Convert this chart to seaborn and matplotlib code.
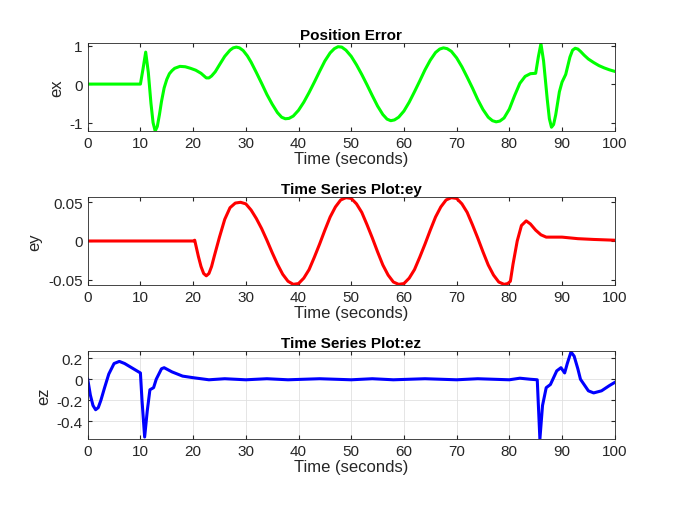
import numpy as np
import pandas as pd
import seaborn as sns
import matplotlib
matplotlib.use("Agg")
import matplotlib.pyplot as plt

ex_t = [0, 5, 10, 10.5, 11, 11.5, 12, 12.4, 12.8, 13.2, 13.6, 14, 14.5, 15, 15.5, 16, 16.5, 17.5, 18.5, 19.5, 20.5, 21.5, 22, 22.5, 23, 23.5, 24.2, 25, 26, 27, 27.6, 28.2, 28.8, 29.5, 30.3, 31, 32, 33, 34, 35, 36, 36.8, 37.5, 38.2, 39, 40, 41, 42, 43, 44, 45, 46, 46.8, 47.5, 48.2, 49, 50, 51, 52, 53, 54, 55, 56, 56.8, 57.5, 58.2, 59, 60, 61, 62, 63, 64, 65, 66, 66.8, 67.5, 68.2, 69, 70, 71, 72, 73, 74, 75, 76, 76.8, 77.5, 78.2, 79, 80, 81, 82, 83, 84, 85, 85.5, 86, 86.5, 87.2, 87.6, 88, 88.4, 88.8, 89.5, 90, 90.7, 91.5, 92, 92.5, 93, 93.5, 94.2, 95, 96, 97, 98, 99, 100]
ex_v = [0, 0, 0, 0.4, 0.83, 0.3, -0.5, -1.0, -1.22, -1.1, -0.8, -0.45, -0.1, 0.12, 0.27, 0.35, 0.41, 0.46, 0.45, 0.41, 0.36, 0.28, 0.22, 0.16, 0.16, 0.21, 0.32, 0.5, 0.72, 0.88, 0.94, 0.96, 0.94, 0.87, 0.73, 0.57, 0.3, 0.02, -0.27, -0.52, -0.74, -0.86, -0.9, -0.89, -0.83, -0.68, -0.47, -0.22, 0.05, 0.33, 0.6, 0.81, 0.92, 0.97, 0.96, 0.88, 0.72, 0.5, 0.25, -0.02, -0.3, -0.57, -0.79, -0.91, -0.95, -0.93, -0.86, -0.7, -0.47, -0.2, 0.08, 0.37, 0.62, 0.82, 0.91, 0.94, 0.92, 0.85, 0.68, 0.45, 0.18, -0.1, -0.4, -0.66, -0.86, -0.95, -0.98, -0.96, -0.88, -0.65, -0.3, 0.02, 0.2, 0.27, 0.28, 0.7, 1.05, 0.6, -0.4, -0.9, -1.12, -1.05, -0.8, -0.2, 0.05, 0.25, 0.7, 0.88, 0.93, 0.91, 0.85, 0.75, 0.65, 0.56, 0.48, 0.42, 0.37, 0.33]

ey_t = [0, 10, 20, 20.3, 21, 21.5, 22, 22.5, 23, 23.5, 24, 25, 26, 27, 28, 29, 30, 31, 32, 33, 34, 35, 36, 37, 38, 39, 40, 41, 42, 43, 44, 45, 46, 47, 48, 49, 50, 51, 52, 53, 54, 55, 56, 57, 58, 59, 60, 61, 62, 63, 64, 65, 66, 67, 68, 69, 70, 71, 72, 73, 74, 75, 76, 77, 78, 79, 79.7, 80.2, 80.7, 81.5, 82.3, 83.2, 84, 85, 86, 87, 90, 93, 96, 100]
ey_v = [0, 0, 0, 0.001, -0.02, -0.033, -0.042, -0.045, -0.042, -0.033, -0.02, 0.005, 0.028, 0.043, 0.049, 0.05, 0.048, 0.04, 0.029, 0.016, 0.001, -0.015, -0.03, -0.043, -0.052, -0.056, -0.055, -0.048, -0.037, -0.021, -0.004, 0.014, 0.031, 0.044, 0.053, 0.056, 0.055, 0.048, 0.037, 0.021, 0.004, -0.014, -0.031, -0.044, -0.053, -0.056, -0.055, -0.048, -0.037, -0.021, -0.004, 0.014, 0.031, 0.044, 0.053, 0.056, 0.055, 0.048, 0.037, 0.021, 0.004, -0.014, -0.031, -0.044, -0.053, -0.056, -0.055, -0.052, -0.03, 0, 0.02, 0.026, 0.022, 0.014, 0.008, 0.005, 0.005, 0.003, 0.002, 0.001]

ez_t = [0, 0.5, 1, 1.5, 2, 2.5, 3.2, 4, 5, 6, 7, 8, 9, 10, 10.3, 10.8, 11.3, 11.8, 12.5, 13, 14, 14.5, 16, 18, 20, 23, 26, 30, 34, 38, 44, 50, 54, 58, 64, 70, 74, 80, 82, 84, 85.3, 85.8, 86.3, 87, 87.8, 89, 89.8, 90.5, 91, 91.7, 92.3, 93, 93.5, 95, 96, 97.5, 99, 100]
ez_v = [0, -0.15, -0.25, -0.29, -0.27, -0.2, -0.08, 0.05, 0.15, 0.17, 0.15, 0.12, 0.09, 0.06, -0.2, -0.55, -0.3, -0.1, -0.08, 0, 0.1, 0.11, 0.07, 0.03, 0.015, -0.005, 0.005, -0.005, 0.005, -0.005, 0.005, -0.005, 0.005, -0.005, 0.005, -0.005, 0.005, -0.005, 0.01, 0, -0.005, -0.57, -0.25, -0.08, -0.05, 0.08, 0.11, 0.06, 0.15, 0.26, 0.22, 0.1, 0.0, -0.11, -0.13, -0.11, -0.06, -0.03]

plt.rcParams["font.family"] = "Liberation Sans"
fig = plt.figure(figsize=(6.8, 5.1), dpi=100)
panels = [
    (ex_t, ex_v, "ex", "Position Error", (0, 1, 0), (-1.22, 1.07), [-1, 0, 1], ["-1", "0", "1"], False, 0.741),
    (ey_t, ey_v, "ey", "Time Series Plot:ey", (1, 0, 0), (-0.057, 0.057), [-0.05, 0, 0.05], ["-0.05", "0", "0.05"], False, 0.439),
    (ez_t, ez_v, "ez", "Time Series Plot:ez", (0, 0, 1), (-0.57, 0.27), [-0.4, -0.2, 0, 0.2], ["-0.4", "-0.2", "0", "0.2"], True, 0.137),
]
for t, v, name, title, col, yl, yt, ytl, grid, y0 in panels:
    ax = fig.add_axes([0.129, y0, 0.775, 0.173])
    df = pd.DataFrame({"t": t, "v": v})
    sns.lineplot(data=df, x="t", y="v", ax=ax, color=col, linewidth=2.2)
    ax.set_xlim(0, 100)
    ax.set_ylim(*yl)
    ax.set_xticks(range(0, 101, 10))
    ax.set_yticks(yt)
    ax.set_yticklabels(ytl)
    ax.tick_params(labelsize=11, colors="#262626", direction="in", length=3, top=True, right=True)
    ax.set_xlabel("Time (seconds)", fontsize=12, color="#262626", labelpad=1)
    ax.set_ylabel(name, fontsize=12, color="#262626")
    ax.set_title(title, fontsize=11, fontweight="bold", pad=3)
    for s in ax.spines.values():
        s.set_color("#262626"); s.set_linewidth(0.6)
    if grid:
        ax.grid(True, color="#e0e0e0", linewidth=0.6)
fig.savefig("out.png", dpi=100)
